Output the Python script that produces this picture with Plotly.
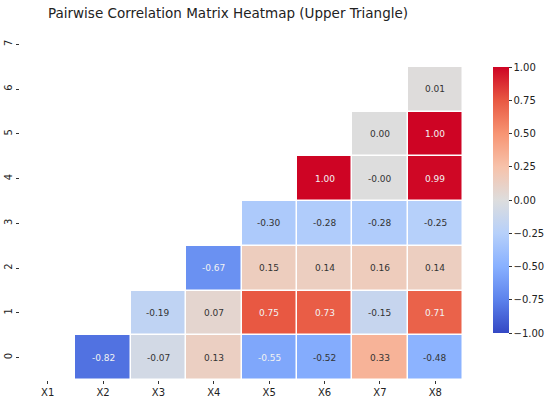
import plotly.graph_objects as go

x_labels = ["X1", "X2", "X3", "X4", "X5", "X6", "X7", "X8"]
y_labels = ["0", "1", "2", "3", "4", "5", "6", "7"]

# rows by y label (0 at bottom); None = masked
row0 = [None, -0.82, -0.07, 0.13, -0.55, -0.52, 0.33, -0.48]
row1 = [None, None, -0.19, 0.07, 0.75, 0.73, -0.15, 0.71]
row2 = [None, None, None, -0.67, 0.15, 0.14, 0.16, 0.14]
row3 = [None, None, None, None, -0.30, -0.28, -0.28, -0.25]
row4 = [None, None, None, None, None, 1.00, -0.00, 0.99]
row5 = [None, None, None, None, None, None, 0.00, 1.00]
row6 = [None, None, None, None, None, None, None, 0.01]
row7 = [None, None, None, None, None, None, None, None]
z = [row0, row1, row2, row3, row4, row5, row6, row7]

cbar_ticks = [-1.0, -0.75, -0.5, -0.25, 0.0, 0.25, 0.5, 0.75, 1.0]

coolwarm = [
    [0.0, "rgb(52,72,196)"],
    [0.125, "rgb(92,130,236)"],
    [0.25, "rgb(136,176,255)"],
    [0.375, "rgb(182,208,250)"],
    [0.5, "rgb(221,221,221)"],
    [0.625, "rgb(247,194,170)"],
    [0.75, "rgb(247,148,115)"],
    [0.875, "rgb(232,88,66)"],
    [1.0, "rgb(206,4,36)"],
]

fig = go.Figure()
fig.add_trace(go.Heatmap(
    z=z, x=x_labels, y=y_labels,
    colorscale=coolwarm, zmin=-1, zmax=1,
    xgap=1.5, ygap=1.5, hoverongaps=False,
    colorbar=dict(
        xref="container", x=493 / 550, xanchor="left",
        yref="container", y=1 - 222 / 397, yanchor="middle",
        lenmode="pixels", len=266,
        thickness=16, xpad=0, ypad=0,
        outlinewidth=0,
        tickvals=cbar_ticks, tickformat=".2f",
        ticks="outside", ticklen=3, tickcolor="#333",
        tickfont=dict(family="DejaVu Sans", size=10, color="#222"),
    ),
))

annotations = []
for yi, row in enumerate(z):
    for xi, v in enumerate(row):
        if v is None:
            continue
        light = v < -0.53 or v > 0.6
        txt = f"{v:.2f}"
        if txt == "0.00" and (yi, xi) == (4, 6):
            txt = "-0.00"
        annotations.append(dict(
            x=x_labels[xi], y=y_labels[yi], text=txt, showarrow=False,
            font=dict(family="DejaVu Sans", size=9,
                      color="#f2f2f2" if light else "#333333"),
        ))

fig.update_layout(
    width=550, height=397,
    margin=dict(l=20, r=87, t=22, b=17, autoexpand=False),
    paper_bgcolor="white", plot_bgcolor="white",
    title=dict(text="Pairwise Correlation Matrix Heatmap (Upper Triangle)",
               xref="container", x=228 / 550, xanchor="center",
               yref="container", y=1 - 13 / 397, yanchor="middle",
               font=dict(family="DejaVu Sans", size=13.5, color="#222")),
    annotations=annotations,
    xaxis=dict(showgrid=False, zeroline=False, ticks="outside", ticklen=3,
               automargin=False,
               tickcolor="#333", tickfont=dict(family="DejaVu Sans", size=10, color="#222")),
    yaxis=dict(showgrid=False, zeroline=False, ticks="outside", ticklen=3,
               automargin=False,
               tickcolor="#333", tickangle=-90,
               tickfont=dict(family="DejaVu Sans", size=10, color="#222")),
)

fig.write_html("out.html", config={"displayModeBar": False},
               post_script="document.body.style.margin='0';document.body.style.overflow='hidden';")
